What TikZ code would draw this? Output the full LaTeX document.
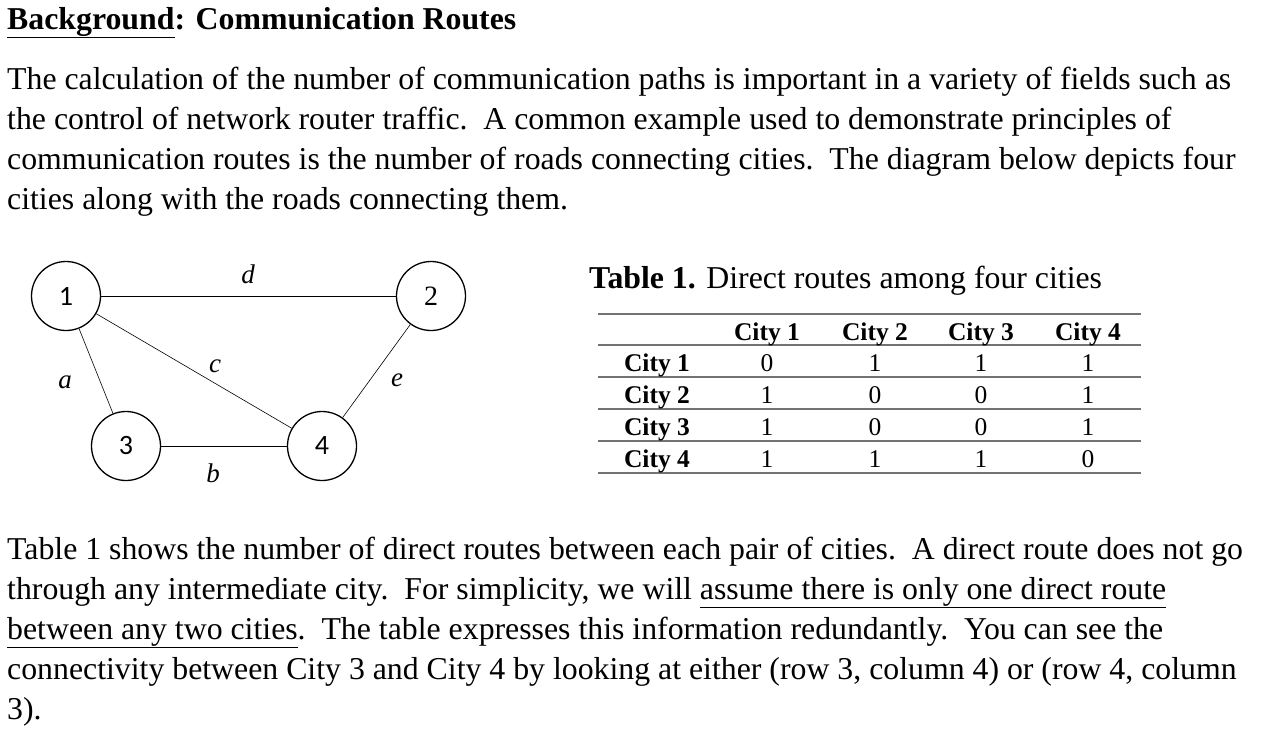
\documentclass[tikz,border=0pt]{standalone}
\usepackage{fontspec}
\setmainfont{Liberation Serif}
\newfontfamily\calib{Carlito}
\begin{document}
\begin{tikzpicture}[x=1pt,y=-1pt,
  txt/.style={anchor=base west,inner sep=0pt,font=\fontsize{31.8}{36}\selectfont},
  city/.style={circle,draw,line width=1.3pt,minimum size=69pt,inner sep=0pt,font=\fontsize{28}{32}\selectfont},
  elab/.style={inner sep=0pt,font=\fontsize{27}{30}\selectfont\itshape},
  road/.style={line width=0.6pt},
  cell/.style={inner sep=0pt,anchor=base,font=\fontsize{25.5}{28}\selectfont},
  hcell/.style={inner sep=0pt,anchor=base,font=\fontsize{25.5}{28}\selectfont\bfseries},
  rule/.style={line width=1.2pt,draw=black!55}]
\useasboundingbox (0,0) rectangle (1280,748);
\node[txt] (h) at (7,29) {\textbf{\underline{Background}: Communication Routes}};
\node[txt] (l1) at (7,89) {The calculation of the number of communication paths is important in a variety of fields such as};
\node[txt] (l2) at (7,129) {the control of network router traffic.\ \ A common example used to demonstrate principles of};
\node[txt] (l3) at (7,169) {communication routes is the number of roads connecting cities.\ \ The diagram below depicts four};
\node[txt] (l4) at (7,209) {cities along with the roads connecting them.};
% graph
\node[city,font=\calib\fontsize{28}{32}\selectfont] (n1) at (66,296) {1};
\node[city] (n2) at (431,296) {2};
\node[city,font=\calib\fontsize{28}{32}\selectfont] (n3) at (126,446) {3};
\node[city,font=\calib\fontsize{28}{32}\selectfont] (n4) at (322,446) {4};
\draw[road] (n1) -- (n2);
\draw[road] (n1) -- (n3);
\draw[road] (n1) -- (n4);
\draw[road] (n3) -- (n4);
\draw[road] (n2) -- (n4);
\node[elab] (ld) at (248,274) {d};
\node[elab] (lc) at (215,366) {c};
\node[elab] (la) at (65,382) {a};
\node[elab] (le) at (397,380) {e};
\node[elab] (lb) at (213,473) {b};
% table
\node[txt] (cap) at (589,288) {\textbf{Table 1.} Direct routes among four cities};
\draw[rule] (598,314) -- (1141,314);
\draw[rule] (598,345) -- (1141,345);
\draw[rule] (598,377) -- (1141,377);
\draw[rule] (598,409) -- (1141,409);
\draw[rule] (598,441) -- (1141,441);
\draw[rule] (598,473) -- (1141,473);
\foreach \x/\t in {767/City 1,875/City 2,981/City 3,1088/City 4}
  \node[hcell] at (\x,340) {\t};
\foreach \y/\r/\a/\b/\c/\d in {371/City 1/0/1/1/1,403/City 2/1/0/0/1,435/City 3/1/0/0/1,467/City 4/1/1/1/0}{
  \node[hcell] at (657,\y) {\r};
  \node[cell] at (767,\y) {\a};
  \node[cell] at (875,\y) {\b};
  \node[cell] at (981,\y) {\c};
  \node[cell] at (1088,\y) {\d};
}
% bottom paragraph
\node[txt] (m1) at (7,559) {Table 1 shows the number of direct routes between each pair of cities.\ \ A direct route does not go};
\node[txt] (m2) at (7,599) {through any intermediate city.\ \ For simplicity, we will \underline{assume there is only one direct route}};
\node[txt] (m3) at (7,639) {\underline{between any two cities}.\ \ The table expresses this information redundantly.\ \ You can see the};
\node[txt] (m4) at (7,679) {connectivity between City 3 and City 4 by looking at either (row 3, column 4) or (row 4, column};
\node[txt] (m5) at (7,719) {3).};
\end{tikzpicture}
\end{document}
